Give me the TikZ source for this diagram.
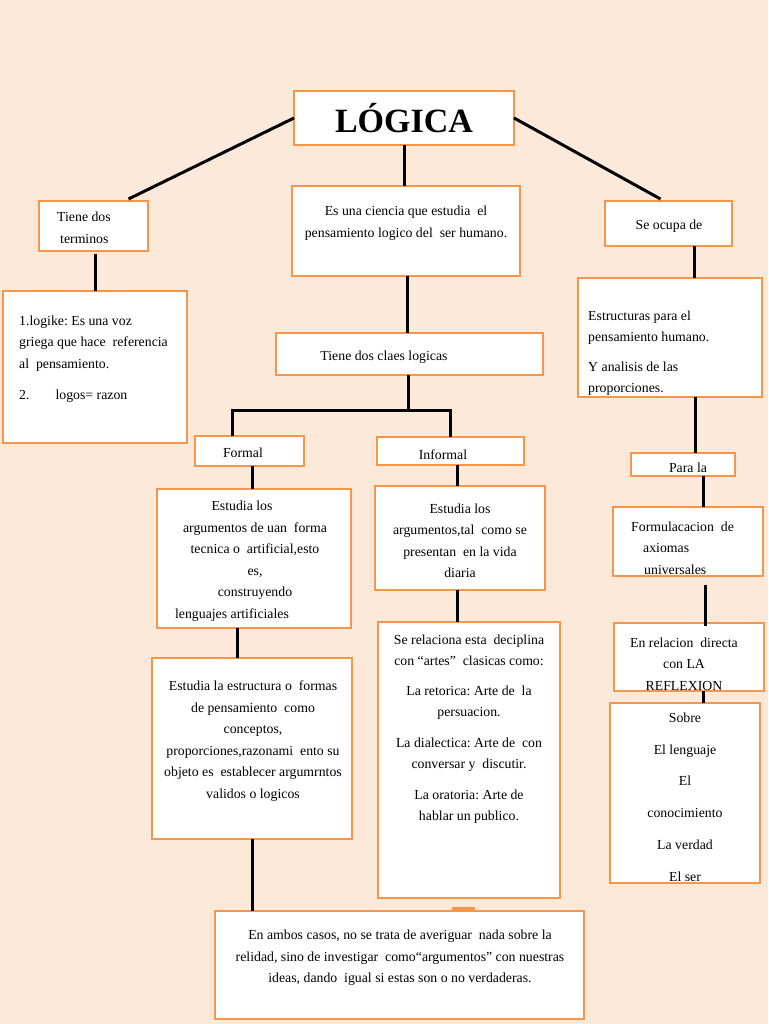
\documentclass[tikz,border=0pt]{standalone}
\usepackage{fontspec}
\setmainfont{Liberation Serif}
\definecolor{fondo}{HTML}{FDE9D9}
\definecolor{borde}{HTML}{F79646}
\frenchspacing
\begin{document}
\begin{tikzpicture}[x=1pt,y=-1pt,
  box/.style={draw=borde,fill=white,line width=2.5pt,inner sep=0pt,outer sep=0pt,anchor=north west},
  txt/.style={inner sep=0pt,yshift=-2pt,font=\fontsize{13.8}{21.5}\selectfont,align=center},
  conn/.style={draw=black,line width=3pt}]
\useasboundingbox (0,0) rectangle (768,1024);
\fill[fondo] (0,0) rectangle (768,1024);

% boxes
\node[box,minimum width=220pt,minimum height=54pt,font=\fontsize{34}{34}\bfseries] (logica) at (294,91) {LÓGICA};
\node[box,minimum width=109pt,minimum height=50pt] (tiene) at (39,201) {};
\node[box,minimum width=228pt,minimum height=90pt] (ciencia) at (292,186) {};
\node[box,minimum width=127pt,minimum height=45pt] (ocupa) at (605,201) {};
\node[box,minimum width=184pt,minimum height=152pt] (logike) at (3,291) {};
\node[box,minimum width=267pt,minimum height=42pt] (claes) at (276,333) {};
\node[box,minimum width=184pt,minimum height=119pt] (estr) at (578,278) {};
\node[box,minimum width=109pt,minimum height=30pt] (formal) at (195,436) {};
\node[box,minimum width=147pt,minimum height=28pt] (informal) at (377,437) {};
\node[box,minimum width=104pt,minimum height=23pt] (para) at (631,453) {};
\node[box,minimum width=194pt,minimum height=139pt] (est1) at (157,489) {};
\node[box,minimum width=170pt,minimum height=104pt] (tal) at (375,486) {};
\node[box,minimum width=150pt,minimum height=69pt] (form) at (613,507) {};
\node[box,minimum width=200pt,minimum height=181pt] (est2) at (152,658) {};
\node[box,minimum width=182pt,minimum height=276pt] (rel) at (378,622) {};
\node[box,minimum width=150pt,minimum height=68pt] (relacion) at (614,623) {};
\node[box,minimum width=150pt,minimum height=180pt] (sobre) at (610,703) {};
\node[box,minimum width=369pt,minimum height=108pt] (ambos) at (215,911) {};
\fill[borde] ([xshift=52pt,yshift=1pt]ambos.north) rectangle ([xshift=75pt,yshift=4pt]ambos.north);

% texts
\node[txt,align=left,anchor=west] (t-tiene) at (57,226) {Tiene dos\\\hspace*{3pt}terminos};
\node[txt] (t-ciencia) at (406,221) {Es una ciencia que estudia~ el\\pensamiento logico del~ ser humano.};
\node[txt] (t-ocupa) at (669,224) {Se ocupa de};
\node[txt,align=left,anchor=west] (t-logike) at (19,357) {1.logike: Es una voz\\griega que hace~ referencia\\al~ pensamiento.\\[10pt]2.\hspace{26pt}logos= razon};
\node[txt] (t-claes) at (384,355) {Tiene dos claes logicas};
\node[txt,align=left,anchor=west] (t-estr) at (588,351) {Estructuras para el\\pensamiento humano.\\[8pt]Y analisis de las\\proporciones.};
\node[txt] (t-formal) at (243,451) {Formal};
\node[txt] (t-informal) at (443,453) {Informal};
\node[txt] (t-para) at (688,466) {Para la};
\node[txt] (t-est1) at (255,559) {Estudia los\hspace*{26pt}\\argumentos de uan~ forma\\tecnica o~ artificial,esto\\es,\\construyendo\hspace*{30pt}\\lenguajes artificiales\hspace*{46pt}};
\node[txt] (t-tal) at (460,539) {Estudia los\\argumentos,tal~ como se\\presentan~ en la vida\\diaria};
\node[txt,align=left,anchor=west] (t-form) at (631,546) {Formulacacion~ de\\\hspace*{12pt}axiomas\\\hspace*{13pt}universales};
\node[txt] (t-est2) at (253,739) {Estudia la estructura o~ formas\\de pensamiento~ como\\conceptos,\\proporciones,razonami~ ento su\\objeto es~ establecer argumrntos\\validos o logicos};
\node[txt] (t-rel) at (469,727) {Se relaciona esta~ deciplina\\con “artes”~ clasicas como:\\[8pt]La retorica: Arte de~ la\\persuacion.\\[9pt]La dialectica: Arte de~ con\\conversar y~ discutir.\\[9pt]La oratoria: Arte de\\hablar un publico.};
\node[txt] (t-relacion) at (684,662) {En relacion~ directa\\con LA\\REFLEXION};
\node[txt,font=\fontsize{13.8}{31.8}\selectfont] (t-sobre) at (685,795) {Sobre\\El lenguaje\\El\\conocimiento\\La verdad\\El ser};
\node[txt] (t-ambos) at (400,956) {En ambos casos, no se trata de averiguar~ nada sobre la\\relidad, sino de investigar~ como“argumentos” con nuestras\\ideas, dando~ igual si estas son o no verdaderas.};

% connectors
\draw[conn] (logica.west) -- ([xshift=35pt,yshift=2pt]tiene.north);
\draw[conn] (logica.east) -- ([xshift=-8pt,yshift=2pt]ocupa.north);
\draw[conn] (logica.south) -- (logica.south |- ciencia.north);
\draw[conn] ([xshift=1.5pt,yshift=-3pt]tiene.south) -- ([xshift=1.5pt]tiene.south |- logike.north);
\draw[conn] ([xshift=-2pt]claes.north |- ciencia.south) -- ([xshift=-2pt]claes.north);
\coordinate (fork) at (408,410);
\draw[conn] (fork |- claes.south) -- (fork);
\draw[conn] ([xshift=-17.5pt]formal.north) |- (fork) -| (informal.north);
\draw[conn] ([xshift=2.5pt]formal.south) -- ([xshift=2.5pt]formal.south |- est1.north);
\draw[conn] ([xshift=-17pt]est1.south) -- ([xshift=-17pt]est1.south |- est2.north);
\draw[conn] (est2.south) -- (est2.south |- ambos.north);
\draw[conn] ([xshift=-3pt]tal.north |- informal.south) -- ([xshift=-3pt]tal.north);
\draw[conn] ([xshift=-3pt]tal.south) -- ([xshift=-3pt]tal.south |- rel.north);
\draw[conn] ([xshift=25.5pt]ocupa.south) -- ([xshift=25.5pt]ocupa.south |- estr.north);
\draw[conn] ([xshift=25pt]estr.south) -- ([xshift=25pt]estr.south |- para.north);
\draw[conn] ([xshift=20pt]para.south) -- ([xshift=20pt]para.south |- form.north);
\draw[conn] ([xshift=17pt,yshift=-9pt]form.south) -- ([xshift=17pt,yshift=-3pt]form.south |- relacion.north);
\draw[conn] ([xshift=14pt]relacion.south) -- ([xshift=14pt]relacion.south |- sobre.north);
\end{tikzpicture}
\end{document}
